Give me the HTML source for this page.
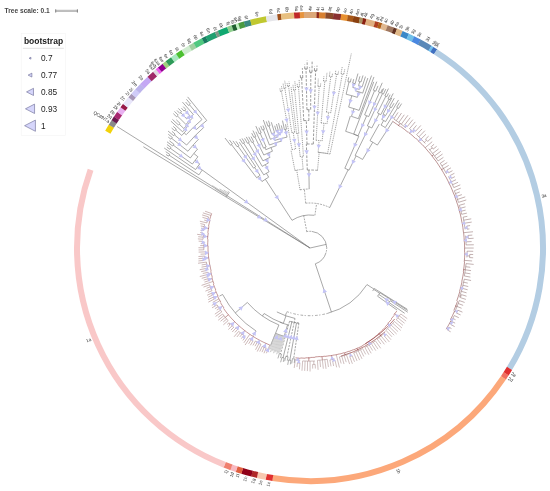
<!DOCTYPE html><html><head><meta charset="utf-8"><title>Tree</title><style>html,body{margin:0;padding:0;background:#fff;width:550px;height:491px;overflow:hidden}svg{display:block}</style></head><body><svg width="550" height="491" viewBox="0 0 550 491"><g fill="none" stroke-width="6"><path d="M107.81,132.21A233,233 0 0 1 111.44,126.08" stroke="#f2d20a"/><path d="M111.33,126.26A233,233 0 0 1 114.26,121.61" stroke="#8a8a8a"/><path d="M114.15,121.78A233,233 0 0 1 116.49,118.21" stroke="#6a1a50"/><path d="M116.38,118.38A233,233 0 0 1 119.72,113.53" stroke="#a82870"/><path d="M119.61,113.69A233,233 0 0 1 123.06,108.92" stroke="#e8b0f0"/><path d="M122.94,109.08A233,233 0 0 1 125.52,105.68" stroke="#981848"/><path d="M125.40,105.84A233,233 0 0 1 130.86,99.01" stroke="#e8e6fa"/><path d="M130.73,99.17A233,233 0 0 1 133.75,95.60" stroke="#a898b8"/><path d="M133.62,95.75A233,233 0 0 1 137.80,91.04" stroke="#d0ccf8"/><path d="M137.67,91.19A233,233 0 0 1 142.54,86.00" stroke="#bcb4ec"/><path d="M142.39,86.14A233,233 0 0 1 149.76,78.85" stroke="#c4a8f4"/><path d="M149.61,78.99A233,233 0 0 1 155.15,73.90" stroke="#a02868"/><path d="M155.00,74.03A233,233 0 0 1 157.91,71.49" stroke="#e0d8e0"/><path d="M157.75,71.62A233,233 0 0 1 160.07,69.64" stroke="#f060f0"/><path d="M159.92,69.77A233,233 0 0 1 164.48,66.03" stroke="#900090"/><path d="M164.32,66.16A233,233 0 0 1 167.68,63.52" stroke="#a0d080"/><path d="M167.51,63.64A233,233 0 0 1 172.88,59.62" stroke="#2e9a58"/><path d="M172.72,59.74A233,233 0 0 1 177.86,56.09" stroke="#a8e8c0"/><path d="M177.69,56.21A233,233 0 0 1 183.27,52.48" stroke="#4cc030"/><path d="M183.10,52.59A233,233 0 0 1 190.52,47.97" stroke="#d0ecd0"/><path d="M190.34,48.07A233,233 0 0 1 195.09,45.31" stroke="#a0d0a0"/><path d="M194.91,45.41A233,233 0 0 1 203.32,40.86" stroke="#50c880"/><path d="M203.13,40.95A233,233 0 0 1 206.95,39.03" stroke="#1a7a60"/><path d="M206.76,39.12A233,233 0 0 1 216.16,34.73" stroke="#20a070"/><path d="M215.97,34.81A233,233 0 0 1 219.15,33.44" stroke="#809888"/><path d="M218.96,33.52A233,233 0 0 1 228.21,29.83" stroke="#10a870"/><path d="M228.02,29.90A233,233 0 0 1 232.80,28.16" stroke="#90d090"/><path d="M232.61,28.23A233,233 0 0 1 236.65,26.85" stroke="#206030"/><path d="M236.45,26.91A233,233 0 0 1 239.35,25.97" stroke="#c0f0c0"/><path d="M239.16,26.03A233,233 0 0 1 244.80,24.31" stroke="#4a9a40"/><path d="M244.60,24.37A233,233 0 0 1 251.07,22.58" stroke="#3a8a80"/><path d="M250.87,22.63A233,233 0 0 1 266.54,19.09" stroke="#c0c830"/><path d="M266.34,19.13A233,233 0 0 1 277.77,17.24" stroke="#e6e6ea"/><path d="M277.57,17.27A233,233 0 0 1 281.40,16.76" stroke="#a0501a"/><path d="M281.20,16.79A233,233 0 0 1 294.36,15.53" stroke="#e8c080"/><path d="M294.15,15.54A233,233 0 0 1 300.04,15.21" stroke="#c02828"/><path d="M299.84,15.22A233,233 0 0 1 304.10,15.07" stroke="#e8943c"/><path d="M303.90,15.08A233,233 0 0 1 316.71,15.10" stroke="#dca878"/><path d="M316.51,15.09A233,233 0 0 1 319.15,15.18" stroke="#902818"/><path d="M318.94,15.17A233,233 0 0 1 325.64,15.53" stroke="#d88030"/><path d="M325.44,15.51A233,233 0 0 1 333.34,16.17" stroke="#8a4a2a"/><path d="M333.14,16.15A233,233 0 0 1 341.02,17.07" stroke="#8a3030"/><path d="M340.82,17.05A233,233 0 0 1 347.60,18.05" stroke="#e89030"/><path d="M347.40,18.02A233,233 0 0 1 353.20,19.04" stroke="#a85818"/><path d="M353.00,19.00A233,233 0 0 1 359.50,20.32" stroke="#8a4010"/><path d="M359.30,20.28A233,233 0 0 1 362.70,21.04" stroke="#a89060"/><path d="M362.50,20.99A233,233 0 0 1 365.90,21.80" stroke="#8a2010"/><path d="M365.70,21.76A233,233 0 0 1 374.60,24.13" stroke="#e0b080"/><path d="M374.40,24.08A233,233 0 0 1 378.19,25.20" stroke="#b04020"/><path d="M378.00,25.14A233,233 0 0 1 381.39,26.21" stroke="#b06018"/><path d="M381.20,26.15A233,233 0 0 1 386.89,28.05" stroke="#e0b890"/><path d="M386.70,27.99A233,233 0 0 1 392.99,30.28" stroke="#a07860"/><path d="M392.80,30.21A233,233 0 0 1 396.09,31.49" stroke="#603020"/><path d="M395.90,31.41A233,233 0 0 1 401.69,33.80" stroke="#e0b888"/><path d="M401.50,33.72A233,233 0 0 1 407.78,36.51" stroke="#3a88c8"/><path d="M407.60,36.43A233,233 0 0 1 413.18,39.09" stroke="#70c0e8"/><path d="M413.00,39.00A233,233 0 0 1 419.38,42.27" stroke="#4a88e0"/><path d="M419.20,42.17A233,233 0 0 1 430.07,48.32" stroke="#5a88b8"/><path d="M429.90,48.22A233,233 0 0 1 432.07,49.54" stroke="#70c0f0"/><path d="M431.90,49.43A233,233 0 0 1 435.67,51.80" stroke="#4070c0"/><path d="M435.50,51.69A233,233 0 0 1 509.41,368.53" stroke="#b3cde3"/><path d="M509.51,368.35A233,233 0 0 1 506.05,373.91" stroke="#e03030"/><path d="M506.16,373.74A233,233 0 0 1 503.39,377.95" stroke="#f07060"/><path d="M503.51,377.79A233,233 0 0 1 272.60,477.98" stroke="#fca87a"/><path d="M272.80,478.01A233,233 0 0 1 266.10,476.83" stroke="#e03030"/><path d="M266.30,476.87A233,233 0 0 1 257.30,474.96" stroke="#f8c8b0"/><path d="M257.50,475.01A233,233 0 0 1 251.90,473.64" stroke="#b02828"/><path d="M252.10,473.69A233,233 0 0 1 242.11,470.89" stroke="#900018"/><path d="M242.30,470.95A233,233 0 0 1 236.61,469.14" stroke="#e06040"/><path d="M236.80,469.20A233,233 0 0 1 231.21,467.27" stroke="#f8b8c0"/><path d="M231.40,467.34A233,233 0 0 1 224.61,464.79" stroke="#f08070"/><path d="M224.80,464.86A233,233 0 0 1 90.57,169.65" stroke="#f9c8c8"/></g><g font-family="Liberation Sans, sans-serif" font-size="4.5" fill="#2a2a2a"><text transform="translate(109.09,121.72) rotate(32.15)" text-anchor="end" dy="1.5">QC69/7a</text><text transform="translate(111.66,117.72) rotate(33.30)" text-anchor="end" dy="1.5">2q</text><text transform="translate(114.43,113.59) rotate(34.50)" text-anchor="end" dy="1.5">2b</text><text transform="translate(117.78,108.85) rotate(35.90)" text-anchor="end" dy="1.5">2k</text><text transform="translate(120.73,104.86) rotate(37.10)" text-anchor="end" dy="1.5">2r</text><text transform="translate(124.67,99.79) rotate(38.65)" text-anchor="end" dy="1.5">2c</text><text transform="translate(128.88,94.67) rotate(40.25)" text-anchor="end" dy="1.5">2i</text><text transform="translate(132.41,90.61) rotate(41.55)" text-anchor="end" dy="1.5">2j</text><text transform="translate(136.87,85.71) rotate(43.15)" text-anchor="end" dy="1.5">2m</text><text transform="translate(142.94,79.47) rotate(45.25)" text-anchor="end" dy="1.5">2a</text><text transform="translate(149.38,73.32) rotate(47.40)" text-anchor="end" dy="1.5">5a</text><text transform="translate(153.54,69.59) rotate(48.75)" text-anchor="end" dy="1.5">6xf</text><text transform="translate(156.04,67.42) rotate(49.55)" text-anchor="end" dy="1.5">6xb</text><text transform="translate(159.38,64.63) rotate(50.60)" text-anchor="end" dy="1.5">6xa</text><text transform="translate(163.25,61.52) rotate(51.80)" text-anchor="end" dy="1.5">6w</text><text transform="translate(167.52,58.23) rotate(53.10)" text-anchor="end" dy="1.5">6v</text><text transform="translate(172.71,54.45) rotate(54.65)" text-anchor="end" dy="1.5">6u</text><text transform="translate(177.99,50.81) rotate(56.20)" text-anchor="end" dy="1.5">6t</text><text transform="translate(184.43,46.65) rotate(58.05)" text-anchor="end" dy="1.5">6r</text><text transform="translate(190.45,43.01) rotate(59.75)" text-anchor="end" dy="1.5">6q</text><text transform="translate(196.95,39.36) rotate(61.55)" text-anchor="end" dy="1.5">6p</text><text transform="translate(203.01,36.19) rotate(63.20)" text-anchor="end" dy="1.5">6o</text><text transform="translate(209.53,33.02) rotate(64.95)" text-anchor="end" dy="1.5">6n</text><text transform="translate(215.76,30.22) rotate(66.60)" text-anchor="end" dy="1.5">6l</text><text transform="translate(221.87,27.67) rotate(68.20)" text-anchor="end" dy="1.5">6k</text><text transform="translate(228.84,25.01) rotate(70.00)" text-anchor="end" dy="1.5">6j</text><text transform="translate(233.13,23.49) rotate(71.10)" text-anchor="end" dy="1.5">6i</text><text transform="translate(236.47,22.38) rotate(71.95)" text-anchor="end" dy="1.5">6h</text><text transform="translate(240.62,21.07) rotate(73.00)" text-anchor="end" dy="1.5">6g</text><text transform="translate(246.58,19.33) rotate(74.50)" text-anchor="end" dy="1.5">6f</text><text transform="translate(257.63,16.55) rotate(77.25)" text-anchor="end" dy="1.5">6e</text><text transform="translate(271.24,13.89) rotate(80.60)" text-anchor="end" dy="1.5">6d</text><text transform="translate(278.82,12.76) rotate(82.45)" text-anchor="end" dy="1.5">6c</text><text transform="translate(287.26,11.79) rotate(84.50)" text-anchor="end" dy="1.5">6b</text><text transform="translate(296.75,11.07) rotate(86.80)" text-anchor="end" dy="1.5">6a</text><text transform="translate(301.72,10.84) rotate(88.00)" text-anchor="end" dy="1.5">4w</text><text transform="translate(310.21,10.70) rotate(270.05)" text-anchor="start" dy="1.5">4v</text><text transform="translate(317.87,10.83) rotate(271.90)" text-anchor="start" dy="1.5">4t</text><text transform="translate(322.42,11.03) rotate(273.00)" text-anchor="start" dy="1.5">4r</text><text transform="translate(329.65,11.52) rotate(274.75)" text-anchor="start" dy="1.5">4q</text><text transform="translate(337.48,12.30) rotate(276.65)" text-anchor="start" dy="1.5">4p</text><text transform="translate(344.74,13.26) rotate(278.42)" text-anchor="start" dy="1.5">4o</text><text transform="translate(350.94,14.26) rotate(279.94)" text-anchor="start" dy="1.5">4n</text><text transform="translate(357.01,15.40) rotate(281.43)" text-anchor="start" dy="1.5">4m</text><text transform="translate(361.84,16.43) rotate(282.62)" text-anchor="start" dy="1.5">4l</text><text transform="translate(365.10,17.19) rotate(283.43)" text-anchor="start" dy="1.5">4k</text><text transform="translate(371.17,18.72) rotate(284.94)" text-anchor="start" dy="1.5">4g</text><text transform="translate(377.42,20.48) rotate(286.51)" text-anchor="start" dy="1.5">4f</text><text transform="translate(380.89,21.53) rotate(287.38)" text-anchor="start" dy="1.5">4d</text><text transform="translate(385.32,22.97) rotate(288.51)" text-anchor="start" dy="1.5">4c</text><text transform="translate(391.23,25.04) rotate(290.02)" text-anchor="start" dy="1.5">4b</text><text transform="translate(395.91,26.80) rotate(291.22)" text-anchor="start" dy="1.5">4a</text><text transform="translate(400.34,28.57) rotate(292.38)" text-anchor="start" dy="1.5">3i</text><text transform="translate(406.30,31.12) rotate(293.94)" text-anchor="start" dy="1.5">3h</text><text transform="translate(412.16,33.82) rotate(295.50)" text-anchor="start" dy="1.5">3g</text><text transform="translate(418.07,36.74) rotate(297.09)" text-anchor="start" dy="1.5">3e</text><text transform="translate(426.70,41.38) rotate(299.46)" text-anchor="start" dy="1.5">3d</text><text transform="translate(433.13,45.15) rotate(301.26)" text-anchor="start" dy="1.5">3b</text><text transform="translate(435.99,46.91) rotate(302.07)" text-anchor="start" dy="1.5">3k</text><text transform="translate(511.50,373.33) rotate(31.88)" text-anchor="start" dy="1.5">2e</text><text transform="translate(508.44,378.13) rotate(33.25)" text-anchor="start" dy="1.5">2d</text><text transform="translate(268.80,481.70) rotate(-80.00)" text-anchor="end" dy="1.5">1c</text><text transform="translate(261.00,480.19) rotate(-78.08)" text-anchor="end" dy="1.5">1e</text><text transform="translate(253.78,478.54) rotate(-76.29)" text-anchor="end" dy="1.5">1g</text><text transform="translate(246.03,476.51) rotate(-74.36)" text-anchor="end" dy="1.5">1h</text><text transform="translate(238.24,474.19) rotate(-72.40)" text-anchor="end" dy="1.5">1l</text><text transform="translate(232.69,472.35) rotate(-70.99)" text-anchor="end" dy="1.5">1d</text><text transform="translate(226.58,470.15) rotate(-69.42)" text-anchor="end" dy="1.5">1j</text><text transform="translate(541.59,196.23) rotate(347.40)" text-anchor="start" dy="1.5">3a</text><text transform="translate(397.36,468.64) rotate(68.40)" text-anchor="start" dy="1.5">1b</text><text transform="translate(90.92,339.19) rotate(-22.60)" text-anchor="end" dy="1.5">1a</text></g><path fill="none" stroke="#7a7a7a" stroke-width="0.65" d="M310.00,248.00L117.07,126.50M310.00,248.00L226.26,197.09M226.26,197.09A98.00,98.00 0 0 1 229.33,192.35M226.26,197.09L143.38,146.69M310.00,248.00L202.26,170.01M198.91,174.86A133.00,133.00 0 0 1 202.24,170.04M198.91,174.86L169.11,155.24M168.53,156.13A168.68,168.68 0 0 1 169.70,154.36M168.53,156.13L165.99,154.48M169.70,154.36L165.71,151.70M202.24,170.04L197.62,166.70M195.61,169.56A138.70,138.70 0 0 1 199.71,163.90M195.61,169.56L164.20,148.02M199.71,163.90L195.09,160.37M192.38,164.04A144.51,144.51 0 0 1 197.91,156.79M192.38,164.04L170.40,148.35M169.77,149.23A171.52,171.52 0 0 1 171.02,147.47M169.77,149.23L166.80,147.14M171.02,147.47L166.97,144.54M197.91,156.79L193.84,153.48M190.33,157.96A149.76,149.76 0 0 1 197.51,149.14M190.33,157.96L173.30,145.14M172.66,146.00A171.07,171.07 0 0 1 173.95,144.29M172.66,146.00L167.00,141.80M173.95,144.29L169.38,140.80M197.51,149.14L193.01,145.19M187.94,151.26A155.75,155.75 0 0 1 198.37,139.38M187.94,151.26L171.67,138.36M170.99,139.23A176.51,176.51 0 0 1 172.36,137.50M170.99,139.23L168.31,137.14M172.36,137.50L168.28,134.22M198.37,139.38L194.84,135.94M186.62,145.06A160.68,160.68 0 0 1 203.73,127.48M186.62,145.06L174.43,134.89M173.72,135.74A176.56,176.56 0 0 1 175.14,134.04M173.72,135.74L168.11,131.11M175.14,134.04L171.93,131.32M203.73,127.48L201.47,124.92M196.40,129.58A164.10,164.10 0 0 1 206.73,120.47M196.40,129.58L193.82,126.89M186.19,134.71A167.82,167.82 0 0 1 201.95,119.59M186.19,134.71L184.14,132.82M181.79,135.44A170.61,170.61 0 0 1 186.54,130.25M181.79,135.44L175.56,129.98M174.82,130.82A178.89,178.89 0 0 1 176.31,129.13M174.82,130.82L171.61,128.04M176.31,129.13L173.25,126.42M186.54,130.25L185.20,128.98M182.57,131.81A172.45,172.45 0 0 1 187.90,126.22M182.57,131.81L170.89,121.15M187.90,126.22L186.93,125.25M183.79,128.49A173.82,173.82 0 0 1 190.16,122.11M183.79,128.49L179.31,124.24M178.53,125.06A179.99,179.99 0 0 1 180.09,123.42M178.53,125.06L172.42,119.35M180.09,123.42L176.29,119.78M190.16,122.11L189.22,121.12M185.87,124.39A175.17,175.17 0 0 1 192.65,117.94M185.87,124.39L177.39,115.94M176.56,116.78A187.15,187.15 0 0 1 178.22,115.11M176.56,116.78L173.32,113.59M178.22,115.11L174.53,111.39M192.65,117.94L191.30,116.45M189.25,118.33A177.19,177.19 0 0 1 193.38,114.60M189.25,118.33L188.30,117.32M186.67,118.85A178.57,178.57 0 0 1 189.96,115.80M186.67,118.85L180.69,112.59M179.84,113.41A187.23,187.23 0 0 1 181.55,111.78M179.84,113.41L177.00,110.47M181.55,111.78L178.35,108.39M189.96,115.80L184.91,110.23M184.04,111.02A186.09,186.09 0 0 1 185.77,109.45M184.04,111.02L181.43,108.18M185.77,109.45L183.23,106.62M193.38,114.60L182.47,102.12M201.95,119.59L189.44,104.72M188.54,105.48A187.25,187.25 0 0 1 190.34,103.97M188.54,105.48L185.62,102.06M190.34,103.97L186.45,99.29M206.73,120.47L187.63,96.88M310.00,248.00L326.30,244.36M311.75,231.39A16.70,16.70 0 0 1 326.69,247.42M326.05,252.60A16.70,16.70 0 0 1 315.30,263.84M292.03,220.32A33.00,33.00 0 0 1 314.19,215.27M292.03,220.32L265.34,179.23M261.96,181.54A82.00,82.00 0 0 1 268.68,177.17M261.96,181.54L258.35,176.54M256.68,177.78A88.17,88.17 0 0 1 260.04,175.34M256.68,177.78L231.49,144.60M230.61,145.28A129.82,129.82 0 0 1 232.38,143.94M230.61,145.28L225.00,138.03M232.38,143.94L229.42,139.96M260.04,175.34L254.64,167.48M253.61,168.20A97.71,97.71 0 0 1 255.68,166.78M253.61,168.20L238.02,146.13M237.15,146.75A124.74,124.74 0 0 1 238.89,145.52M237.15,146.75L232.93,140.89M238.89,145.52L235.93,141.25M255.68,166.78L239.25,142.21M268.68,177.17L266.40,173.26M263.76,174.86A86.53,86.53 0 0 1 269.09,171.75M263.76,174.86L243.63,143.03M242.74,143.60A124.19,124.19 0 0 1 244.54,142.46M242.74,143.60L239.79,139.02M244.54,142.46L242.03,138.43M269.09,171.75L265.27,164.64M262.22,166.36A94.60,94.60 0 0 1 268.39,163.04M262.22,166.36L248.40,142.74M247.50,143.28A121.96,121.96 0 0 1 249.30,142.22M247.50,143.28L244.58,138.38M249.30,142.22L246.24,136.89M268.39,163.04L266.44,159.05M262.93,160.86A99.04,99.04 0 0 1 270.02,157.39M262.93,160.86L252.79,142.09M251.89,142.58A120.37,120.37 0 0 1 253.70,141.60M251.89,142.58L248.70,136.80M253.70,141.60L251.03,136.56M270.02,157.39L268.09,153.02M263.82,155.02A103.82,103.82 0 0 1 272.45,151.21M263.82,155.02L254.83,136.92M253.88,137.40A124.03,124.03 0 0 1 255.78,136.45M253.88,137.40L251.73,133.16M255.78,136.45L252.92,130.56M272.45,151.21L271.01,147.52M265.81,149.70A107.78,107.78 0 0 1 276.32,145.62M265.81,149.70L264.86,147.58M263.57,148.17A110.10,110.10 0 0 1 266.15,147.01M263.57,148.17L255.91,131.70M266.15,147.01L260.21,133.32M259.23,133.75A125.02,125.02 0 0 1 261.19,132.90M259.23,133.75L255.83,126.10M261.19,132.90L258.93,127.57M276.32,145.62L275.42,142.86M269.43,145.02A110.68,110.68 0 0 1 281.52,141.05M269.43,145.02L263.37,129.66M262.36,130.06A127.19,127.19 0 0 1 264.39,129.27M262.36,130.06L260.71,125.98M264.39,129.27L262.94,125.49M281.52,141.05L280.87,138.59M274.77,140.40A113.22,113.22 0 0 1 287.06,137.13M274.77,140.40L273.99,138.02M270.36,139.28A115.72,115.72 0 0 1 277.66,136.89M270.36,139.28L263.34,120.03M277.66,136.89L277.20,135.31M274.07,136.26A117.37,117.37 0 0 1 280.34,134.44M274.07,136.26L273.09,133.20M271.61,133.68A120.59,120.59 0 0 1 274.56,132.73M271.61,133.68L268.99,125.88M267.95,126.23A128.82,128.82 0 0 1 270.04,125.53M267.95,126.23L266.30,121.46M270.04,125.53L268.46,120.70M274.56,132.73L271.34,122.24M280.34,134.44L279.89,132.71M277.92,133.24A119.16,119.16 0 0 1 281.87,132.21M277.92,133.24L277.19,130.63M276.19,130.92A121.87,121.87 0 0 1 278.20,130.35M276.19,130.92L274.68,125.71M278.20,130.35L276.49,124.02M281.87,132.21L281.43,130.40M280.43,130.65A121.02,121.02 0 0 1 282.44,130.16M280.43,130.65L278.52,123.08M282.44,130.16L281.32,125.39M287.06,137.13L285.46,129.40M284.44,129.62A121.11,121.11 0 0 1 286.48,129.20M284.44,129.62L282.50,120.61M286.48,129.20L285.49,124.19M309.18,189.01L308.91,170.01M329.73,207.55L348.14,169.80M344.83,168.28A87.00,87.00 0 0 1 348.96,170.21M344.83,168.28L358.84,136.20M345.67,131.33A122.00,122.00 0 0 1 358.84,136.20M345.67,131.33L350.35,116.03M351.48,116.38A138.00,138.00 0 0 1 358.33,118.74M351.48,116.38L353.92,108.63M348.66,107.08A146.13,146.13 0 0 1 359.13,110.38M348.66,107.08L351.78,95.70M346.14,94.26A157.93,157.93 0 0 1 357.36,97.34M346.14,94.26L349.06,81.85M347.81,81.56A170.68,170.68 0 0 1 350.30,82.14M347.81,81.56L348.78,77.30M350.30,82.14L351.17,78.55M357.36,97.34L359.07,91.92M355.41,90.82A163.61,163.61 0 0 1 362.70,93.11M355.41,90.82L356.11,88.40M352.83,87.49A166.13,166.13 0 0 1 359.38,89.38M352.83,87.49L353.92,83.38M352.69,83.06A170.38,170.38 0 0 1 355.15,83.71M352.69,83.06L353.70,79.17M355.15,83.71L357.94,73.55M359.38,89.38L360.38,86.18M358.56,85.63A169.48,169.48 0 0 1 362.18,86.76M358.56,85.63L359.75,81.65M358.51,81.28A173.63,173.63 0 0 1 360.99,82.02M358.51,81.28L359.96,76.30M360.99,82.02L363.00,75.48M362.18,86.76L365.47,76.61M362.70,93.11L367.83,78.02M359.13,110.38L371.55,75.56M358.33,118.74L373.95,76.95M353.72,134.10A122.00,122.00 0 0 1 358.04,135.86M353.72,134.10L373.77,81.87M358.04,135.86L366.65,115.74M364.63,114.89A143.88,143.88 0 0 1 368.66,116.62M364.63,114.89L374.56,90.69M373.35,90.21A170.04,170.04 0 0 1 375.76,91.19M373.35,90.21L376.79,81.64M375.76,91.19L377.98,85.88M368.66,116.62L379.53,92.29M378.34,91.76A170.53,170.53 0 0 1 380.72,92.82M378.34,91.76L382.26,82.79M380.72,92.82L382.51,88.89M348.96,170.21L356.12,155.90M355.15,155.42A103.00,103.00 0 0 1 362.59,159.44M355.15,155.42L369.18,126.66M367.37,125.80A135.00,135.00 0 0 1 371.81,127.98M367.37,125.80L382.47,93.65M381.52,93.21A170.51,170.51 0 0 1 383.41,94.10M381.52,93.21L383.81,88.27M383.41,94.10L385.79,89.10M371.81,127.98L379.10,113.83M377.46,112.99A150.92,150.92 0 0 1 380.74,114.68M377.46,112.99L385.80,96.30M384.87,95.84A169.58,169.58 0 0 1 386.73,96.77M384.87,95.84L388.45,88.58M386.73,96.77L388.44,93.39M380.74,114.68L389.00,99.11M388.09,98.63A168.55,168.55 0 0 1 389.91,99.59M388.09,98.63L390.14,94.72M389.91,99.59L393.22,93.44M362.59,159.44L372.80,142.24M370.01,140.63A123.00,123.00 0 0 1 377.35,145.08M370.01,140.63L379.28,124.05M381.05,125.06A142.00,142.00 0 0 1 385.29,127.60M381.05,125.06L383.68,120.52M381.77,119.43A147.24,147.24 0 0 1 385.57,121.63M381.77,119.43L384.35,114.80M383.02,114.07A152.54,152.54 0 0 1 385.67,115.55M383.02,114.07L391.83,97.92M385.67,115.55L390.53,107.04M389.60,106.51A162.34,162.34 0 0 1 391.47,107.58M389.60,106.51L394.29,98.16M391.47,107.58L394.03,103.16M385.57,121.63L398.53,99.96M385.29,127.60L397.65,107.84M396.72,107.26A165.31,165.31 0 0 1 398.58,108.42M396.72,107.26L399.56,102.64M398.58,108.42L401.62,103.62M377.35,145.08L392.68,121.65M315.30,263.84L331.48,312.20M366.97,284.57A67.70,67.70 0 0 1 327.52,313.39M366.97,284.57L373.95,289.06M374.31,288.50A76.00,76.00 0 0 1 372.63,291.05M374.31,288.50L407.31,309.28M373.74,289.39L379.61,293.21M379.92,292.72A83.00,83.00 0 0 1 377.57,296.20M378.81,294.41L389.59,301.68M379.92,292.72L407.72,310.50M390.24,300.71A96.00,96.00 0 0 1 389.02,302.51M390.24,300.71L407.79,312.24M389.02,302.51L404.66,313.30M377.57,296.20L397.11,310.14M286.57,312.37L285.37,315.66M295.03,318.43A72.00,72.00 0 0 1 276.87,311.92M285.97,315.87L283.30,323.41M288.49,325.05A80.00,80.00 0 0 1 279.77,322.07M287.55,324.78L284.18,336.30M284.18,336.30A92.00,92.00 0 0 1 275.54,333.30M282.64,323.18A80.00,80.00 0 0 1 264.11,313.53M264.11,313.53L262.39,315.99M278.91,324.96A83.00,83.00 0 0 1 247.36,302.45M247.36,302.45L235.28,312.95M256.08,331.03A99.00,99.00 0 0 1 222.59,294.48M256.08,331.03L253.09,335.64M222.59,294.48L219.50,296.12M278.91,324.96L270.67,345.35"/><path fill="none" stroke="#a8a8a8" stroke-width="0.65" d="M226.89,196.07L215.02,188.65M227.44,195.20L212.28,185.50M228.00,194.34L219.63,188.86M228.66,193.34L223.68,189.99M229.33,192.35L227.69,191.22"/><path fill="none" stroke="#7a7a7a" stroke-width="0.65" stroke-dasharray="1.8,1.1" d="M306.47,231.68A16.70,16.70 0 0 1 311.75,231.39M306.81,231.61L303.70,215.61M314.88,215.36L316.65,203.49M305.69,203.21A45.00,45.00 0 0 1 329.73,207.55M305.69,203.21L304.35,189.27M300.06,189.84A59.00,59.00 0 0 1 309.18,189.01M295.03,318.43L294.20,322.34M298.77,323.17A76.00,76.00 0 0 1 289.69,321.24"/><path fill="none" stroke="#7a7a7a" stroke-width="0.65" stroke-dasharray="1.6,1" d="M326.69,247.42A16.70,16.70 0 0 1 326.05,252.60"/><path fill="none" stroke="#666" stroke-width="0.65" stroke-dasharray="1,0.9" d="M300.06,189.84L296.69,170.13M294.93,170.45A79.00,79.00 0 0 1 303.11,169.30M294.93,170.45L290.92,149.84M292.03,149.63A100.00,100.00 0 0 1 295.65,149.03M292.03,149.63L281.37,91.23M280.41,91.41A159.36,159.36 0 0 1 282.33,91.06M280.41,91.41L279.72,87.76M282.33,91.06L281.44,86.02M295.65,149.03L293.23,132.35M291.82,132.56A116.86,116.86 0 0 1 294.65,132.15M291.82,132.56L284.85,88.28M283.87,88.43A161.69,161.69 0 0 1 285.82,88.13M283.87,88.43L283.02,83.24M285.82,88.13L284.65,80.40M294.65,132.15L288.53,85.99M287.54,86.13A163.42,163.42 0 0 1 289.52,85.87M287.54,86.13L287.04,82.55M289.52,85.87L288.98,81.65M303.11,169.30L301.98,156.35M300.16,156.53A92.00,92.00 0 0 1 303.46,156.23M300.16,156.53L297.68,133.39M296.55,133.52A115.27,115.27 0 0 1 298.80,133.28M296.55,133.52L291.03,86.55M298.80,133.28L294.58,90.06M293.55,90.16A158.69,158.69 0 0 1 295.62,89.96M293.55,90.16L292.94,84.33M295.62,89.96L294.82,81.15M303.46,156.23L298.51,86.69M297.45,86.77A161.71,161.71 0 0 1 299.56,86.62M297.45,86.77L297.22,83.78M299.56,86.62L299.08,79.14M317.48,170.36L319.20,152.44M329.96,154.10L351.37,53.35M319.20,152.44A96.00,96.00 0 0 1 329.96,154.10M318.12,152.34A96.00,96.00 0 0 1 327.57,153.62M318.12,152.34L319.12,140.56M316.12,140.35A107.83,107.83 0 0 1 322.10,140.86M316.12,140.35L319.20,86.34M317.91,86.27A161.92,161.92 0 0 1 320.48,86.42M317.91,86.27L318.30,78.38M320.48,86.42L320.71,82.91M322.10,140.86L324.09,123.30M321.11,123.00A125.50,125.50 0 0 1 327.06,123.67M321.11,123.00L324.84,81.03M323.51,80.91A167.63,167.63 0 0 1 326.16,81.15M323.51,80.91L323.88,76.34M326.16,81.15L326.97,72.85M327.06,123.67L328.60,112.39M326.44,112.11A136.88,136.88 0 0 1 330.76,112.70M326.44,112.11L330.76,76.47M329.39,76.31A172.78,172.78 0 0 1 332.12,76.64M329.39,76.31L329.91,71.70M332.12,76.64L332.55,73.32M330.76,112.70L336.66,74.23M335.28,74.03A175.80,175.80 0 0 1 338.04,74.45M335.28,74.03L335.85,70.07M338.04,74.45L338.66,70.62M327.57,153.62L342.42,73.82M341.04,73.57A177.17,177.17 0 0 1 343.81,74.09M341.04,73.57L342.19,67.07M343.81,74.09L344.74,69.27"/><path fill="none" stroke="#666" stroke-width="0.65" stroke-dasharray="2.6,1.4" d="M307.28,170.05A78.00,78.00 0 0 1 317.48,170.36M307.28,170.05L306.37,144.06M306.99,144.04A104.00,104.00 0 0 1 313.29,144.05M306.99,144.04L306.31,120.53M303.74,120.63A127.52,127.52 0 0 1 308.89,120.49M303.74,120.63L301.63,77.71M300.48,77.77A170.50,170.50 0 0 1 302.78,77.66M300.48,77.77L300.26,73.79M302.78,77.66L302.37,68.15M308.89,120.49L308.79,109.65M306.93,109.68A138.36,138.36 0 0 1 310.66,109.64M306.93,109.68L306.03,68.94M304.82,68.97A179.10,179.10 0 0 1 307.23,68.92M304.82,68.97L304.69,64.59M307.23,68.92L307.10,60.51M310.66,109.64L310.83,72.24M309.65,72.24A175.76,175.76 0 0 1 312.02,72.25M309.65,72.24L309.64,67.25M312.02,72.25L312.14,61.43M313.29,144.05L315.61,70.76M314.42,70.72A177.33,177.33 0 0 1 316.81,70.80M314.42,70.72L314.53,66.42M316.81,70.80L317.00,65.66"/><path fill="none" stroke="#7a2c2c" stroke-width="0.5" d="M392.36,121.18A151.21,151.21 0 0 1 400.32,126.73M400.53,126.36A151.63,151.63 0 0 1 408.15,132.42M408.38,132.06A152.06,152.06 0 0 1 415.62,138.61M415.87,138.27A152.48,152.48 0 0 1 422.69,145.29M422.80,145.12A152.67,152.67 0 0 1 429.17,152.57M429.28,152.41A152.86,152.86 0 0 1 435.17,160.26M435.29,160.11A153.04,153.04 0 0 1 440.67,168.33M440.79,168.19A153.22,153.22 0 0 1 445.65,176.74M445.78,176.61A153.40,153.40 0 0 1 450.08,185.47M450.22,185.35A153.58,153.58 0 0 1 453.95,194.47M454.09,194.37A153.75,153.75 0 0 1 457.23,203.72M457.38,203.62A153.91,153.91 0 0 1 459.92,213.17M460.07,213.08A154.08,154.08 0 0 1 462.00,222.78M462.16,222.70A154.24,154.24 0 0 1 463.47,232.51M463.63,232.44A154.41,154.41 0 0 1 464.31,242.33M464.52,242.27A154.63,154.63 0 0 1 464.57,252.19M464.85,252.14A154.90,154.90 0 0 1 464.26,262.07M464.54,262.04A155.18,155.18 0 0 1 463.32,271.93M463.60,271.92A155.45,155.45 0 0 1 461.75,281.72M462.03,281.73A155.73,155.73 0 0 1 459.55,291.41M459.83,291.44A156.00,156.00 0 0 1 456.74,300.96M457.56,301.20A156.86,156.86 0 0 1 453.84,310.55M454.65,310.85A157.71,157.71 0 0 1 450.32,320.00M451.11,320.34A158.57,158.57 0 0 1 446.18,329.24M398.44,125.61L400.09,123.31M409.55,133.41L411.90,130.70M418.63,141.41L421.08,139.01M431.88,156.00L433.61,154.70M441.50,169.69L443.53,168.48M448.88,183.02L451.25,181.92M454.91,197.05L456.53,196.48M459.14,210.15L460.58,209.78M462.13,223.61L464.26,223.27M464.19,240.36L465.91,240.27M464.61,254.19L467.01,254.29M463.57,269.57L465.32,269.81M460.32,287.82L462.17,288.31M455.27,305.75L457.08,306.46M450.72,319.11L452.16,319.84M447.15,327.92L448.15,328.50"/><path fill="none" stroke="#866464" stroke-width="0.5" d="M393.78,118.99A153.83,153.83 0 0 1 406.18,127.95M404.98,127.00L405.98,125.72M404.76,124.77A155.45,155.45 0 0 1 407.20,126.68M404.76,124.77L410.28,117.60M407.20,126.68L412.87,119.61M393.78,118.99L398.08,112.37M396.33,120.68L401.51,113.04M398.85,122.42L404.27,114.77M401.33,124.22L407.95,115.25M409.55,128.69A155.38,155.38 0 0 1 414.22,132.75M413.07,131.72L414.43,130.18M413.25,129.15A157.44,157.44 0 0 1 415.59,131.23M413.25,129.15L416.52,125.38M415.59,131.23L420.83,125.43M409.55,128.69L415.21,121.91M416.65,134.67A155.62,155.62 0 0 1 425.33,143.51M424.28,142.37L426.58,140.24M425.51,139.09A158.76,158.76 0 0 1 427.65,141.41M425.51,139.09L428.63,136.14M427.65,141.41L432.13,137.35M416.65,134.67L422.13,128.85M418.89,136.82L424.92,130.65M421.08,139.01L425.97,134.21M425.14,147.78L432.24,141.61M428.81,148.67A154.87,154.87 0 0 1 438.09,160.96M429.80,149.86L432.22,147.87M431.22,146.66A158.00,158.00 0 0 1 433.21,149.09M431.22,146.66L434.09,144.26M433.21,149.09L436.67,146.31M432.67,153.48L438.60,148.91M434.53,155.94L440.82,151.28M436.34,158.43L442.56,154.02M438.09,160.96L443.40,157.36M440.26,163.23A155.41,155.41 0 0 1 446.59,173.86M445.84,172.50L447.78,171.43M447.01,170.06A157.63,157.63 0 0 1 448.54,172.80M447.01,170.06L450.94,167.82M448.54,172.80L452.49,170.66M440.26,163.23L444.55,160.44M441.92,165.84L447.26,162.51M443.53,168.48L448.68,165.42M448.51,176.35A155.94,155.94 0 0 1 453.77,187.59M449.21,177.73L450.80,176.93M450.08,175.53A157.72,157.72 0 0 1 451.50,178.33M450.08,175.53L454.40,173.30M451.50,178.33L454.88,176.67M451.25,181.92L455.99,179.70M452.54,184.74L458.10,182.27M453.77,187.59L460.29,184.85M454.36,190.69A155.32,155.32 0 0 1 458.46,202.35M454.36,190.69L460.75,188.16M455.47,193.58L459.81,191.95M456.53,196.48L461.87,194.60M457.52,199.41L465.23,196.87M458.46,202.35L466.26,199.95M459.38,205.31A155.36,155.36 0 0 1 461.66,214.30M459.38,205.31L464.94,203.72M460.20,208.29L465.54,206.87M460.96,211.28L465.65,210.14M461.66,214.30L466.84,213.14M463.15,217.15A156.23,156.23 0 0 1 465.12,229.42M464.93,227.88L466.94,227.62M466.73,226.06A158.25,158.25 0 0 1 467.13,229.18M466.73,226.06L470.08,225.59M467.13,229.18L469.44,228.91M463.15,217.15L467.37,216.30M463.73,220.20L471.25,218.84M464.26,223.27L471.72,222.07M463.57,232.70L473.02,231.76M465.61,235.62A156.10,156.10 0 0 1 466.07,244.93M465.73,237.17L468.14,237.00M468.02,235.43A158.52,158.52 0 0 1 468.24,238.58M468.02,235.43L472.31,235.09M468.24,238.58L473.60,238.26M465.98,241.82L471.64,241.60M466.07,244.93L473.81,244.78M464.65,248.04L473.69,248.04M467.10,251.16A157.13,157.13 0 0 1 466.85,257.41M466.94,255.85L469.67,255.99M469.74,254.40A159.87,159.87 0 0 1 469.58,257.58M469.74,254.40L473.18,254.54M469.58,257.58L473.18,257.79M467.10,251.16L473.23,251.29M464.50,260.36L472.14,260.97M466.06,263.62A156.84,156.84 0 0 1 464.32,275.98M466.06,263.62L473.67,264.38M465.72,266.72L470.31,267.27M465.32,269.81L471.04,270.62M464.85,272.90L470.48,273.81M464.32,275.98L470.39,277.08M464.30,279.16A157.42,157.42 0 0 1 459.49,297.32M459.97,295.83L460.93,296.13M461.40,294.63A158.42,158.42 0 0 1 460.44,297.63M461.40,294.63L466.52,296.20M460.44,297.63L465.88,299.42M464.30,279.16L471.09,280.53M463.65,282.22L467.77,283.14M462.94,285.27L468.28,286.57M462.17,288.31L467.64,289.76M461.33,291.33L466.59,292.83M459.29,300.56A158.27,158.27 0 0 1 454.63,312.27M455.27,310.83L457.12,311.63M457.75,310.16A160.29,160.29 0 0 1 456.48,313.09M457.75,310.16L462.45,312.14M456.48,313.09L460.62,314.93M459.29,300.56L464.63,302.45M458.21,303.52L463.15,305.38M457.08,306.46L461.57,308.25M454.24,315.56A159.28,159.28 0 0 1 449.95,324.05M450.70,322.65L451.59,323.12M452.33,321.71A160.28,160.28 0 0 1 450.83,324.53M452.33,321.71L455.14,323.17M450.83,324.53L454.62,326.59M454.24,315.56L458.82,317.71M452.87,318.42L455.57,319.75M448.95,327.12A159.90,159.90 0 0 1 447.34,329.87M448.95,327.12L451.49,328.58M447.34,329.87L450.65,331.84"/><path fill="none" stroke="#7a7a7a" stroke-width="0.65" stroke-dasharray="1.2,1.5,2.6,2" d="M327.52,313.39A67.70,67.70 0 0 1 286.85,311.62"/><path fill="none" stroke="#8a2a2a" stroke-width="0.6" d="M394.65,319.03A110.50,110.50 0 0 1 365.25,343.70M385.28,331.60A112.50,112.50 0 0 1 341.01,356.14"/><path fill="none" stroke="#8a2a2a" stroke-width="0.5" d="M396.78,311.05A107.27,107.27 0 0 1 393.85,314.90M394.29,315.20A107.80,107.80 0 0 1 391.18,318.93M391.61,319.25A108.33,108.33 0 0 1 388.31,322.86M388.72,323.20A108.87,108.87 0 0 1 385.26,326.67M385.65,327.03A109.40,109.40 0 0 1 382.02,330.36M382.25,330.56A109.71,109.71 0 0 1 378.45,333.73M378.64,333.91A109.97,109.97 0 0 1 374.70,336.92M374.88,337.10A110.22,110.22 0 0 1 370.80,339.93M370.98,340.13A110.48,110.48 0 0 1 366.76,342.78M366.93,342.98A110.73,110.73 0 0 1 362.59,345.45M362.75,345.66A110.99,110.99 0 0 1 358.29,347.93M358.24,347.73A110.79,110.79 0 0 1 353.70,349.80M353.64,349.58A110.56,110.56 0 0 1 349.02,351.45M348.98,351.23A110.34,110.34 0 0 1 344.29,352.88M344.26,352.65A110.12,110.12 0 0 1 339.51,354.09M339.48,353.87A109.89,109.89 0 0 1 334.68,355.09M334.67,354.86A109.67,109.67 0 0 1 329.83,355.86M329.83,355.64A109.45,109.45 0 0 1 324.96,356.42M324.97,356.20A109.23,109.23 0 0 1 320.07,356.76M320.09,356.53A109.00,109.00 0 0 1 315.19,356.88M315.25,357.31A109.44,109.44 0 0 1 310.32,357.44M310.36,357.89A109.89,109.89 0 0 1 305.41,357.79M305.43,358.24A110.33,110.33 0 0 1 300.47,357.92M300.47,358.37A110.78,110.78 0 0 1 295.50,357.82M394.45,313.70L398.55,316.89M387.51,323.27L390.31,325.98M378.85,333.21L381.13,336.02M368.45,341.40L370.26,344.31M357.12,348.43L358.24,350.83M344.57,352.96L345.29,355.14M331.55,355.61L332.34,359.53M322.02,356.76L322.37,359.91M308.86,357.25L308.82,361.14M297.97,357.91L297.74,360.01"/><path fill="none" stroke="#a08080" stroke-width="0.5" d="M400.77,313.95A112.20,112.20 0 0 1 396.24,319.77M400.77,313.95L407.23,318.64M399.30,315.92L406.16,321.14M397.79,317.86L404.55,323.24M396.24,319.77L403.02,325.40M394.45,321.47A111.94,111.94 0 0 1 385.92,330.26M394.45,321.47L401.98,328.01M392.82,323.30L400.74,330.49M391.16,325.10L398.09,331.69M389.45,326.86L396.66,334.02M387.70,328.58L394.13,335.24M385.92,330.26L391.97,336.81M384.91,332.82A113.17,113.17 0 0 1 377.20,339.05M383.98,333.64L385.28,335.15M386.23,334.32A115.16,115.16 0 0 1 384.32,335.97M386.23,334.32L391.01,339.73M384.32,335.97L389.42,342.00M381.13,336.02L386.31,342.44M379.18,337.56L384.40,344.32M377.20,339.05L380.95,344.13M375.45,340.87A113.61,113.61 0 0 1 364.90,347.46M375.45,340.87L380.70,348.32M373.40,342.28L378.02,349.16M371.32,343.64L375.80,350.64M369.21,344.96L372.59,350.50M367.07,346.24L371.19,353.34M364.90,347.46L368.92,354.74M362.70,348.62A113.58,113.58 0 0 1 353.69,352.84M362.70,348.62L365.73,354.42M360.48,349.75L363.84,356.52M358.24,350.83L362.02,358.88M355.98,351.86L359.63,360.13M353.69,352.84L357.06,360.94M351.10,353.05A112.80,112.80 0 0 1 339.37,356.91M349.95,353.49L350.97,356.19M352.15,355.74A115.69,115.69 0 0 1 349.78,356.63M352.15,355.74L354.52,361.80M349.78,356.63L352.40,363.79M346.46,354.75L349.65,364.08M344.11,355.52L346.22,362.17M341.75,356.24L344.04,364.06M339.37,356.91L341.15,363.51M336.27,354.67L339.45,367.56M334.78,359.01A113.74,113.74 0 0 1 329.89,359.99M333.56,359.28L333.86,360.68M335.09,360.41A115.17,115.17 0 0 1 332.62,360.93M335.09,360.41L336.63,367.32M332.62,360.93L333.64,366.03M329.89,359.99L331.02,366.37M327.26,359.26A112.60,112.60 0 0 1 317.45,360.35M327.26,359.26L328.46,366.99M324.82,359.62L326.04,368.87M322.37,359.91L323.34,368.69M319.91,360.16L320.52,367.06M317.45,360.35L318.08,369.85M315.02,361.03A113.15,113.15 0 0 1 302.63,360.91M313.78,361.08L313.89,364.43M315.16,364.38A116.49,116.49 0 0 1 312.61,364.46M315.16,364.38L315.35,368.53M312.61,364.46L312.71,368.62M310.06,361.15L310.07,371.49M307.58,361.12L307.37,371.09M305.10,361.04L304.68,370.89M302.63,360.91L301.98,370.79M300.20,360.25A112.68,112.68 0 0 1 295.29,359.71M298.97,360.14L298.68,363.07M299.94,363.18A115.62,115.62 0 0 1 297.42,362.94M299.94,363.18L299.41,369.32M297.42,362.94L296.98,367.01M295.29,359.71L294.21,367.97"/><path fill="none" stroke="#777" stroke-width="0.65" stroke-dasharray="2.2,1.1" d="M298.90,323.18L293.64,358.80M294.20,322.34L286.92,356.57M289.56,321.20L280.42,353.95M298.90,323.18A76.00,76.00 0 0 1 289.56,321.20"/><path fill="none" stroke="#777" stroke-width="0.65" d="M294.80,358.96A112.00,112.00 0 0 1 292.48,358.62M296.54,322.80L289.81,360.20M290.99,360.40A114.00,114.00 0 0 1 288.64,359.98M288.06,356.81A111.00,111.00 0 0 1 285.79,356.33M291.87,321.81L283.05,357.74M284.20,358.01A113.00,113.00 0 0 1 281.90,357.45M281.53,354.25A110.00,110.00 0 0 1 279.31,353.63"/><path fill="none" stroke="#888" stroke-width="0.65" d="M294.80,358.96L294.26,362.93M292.48,358.62L291.70,363.56M290.99,360.40L290.32,364.35M288.64,359.98L287.70,364.89M288.06,356.81L287.27,360.73M285.79,356.33L284.70,361.21M284.20,358.01L283.28,361.91M281.90,357.45L280.65,362.29M281.53,354.25L280.49,358.12M279.31,353.63L277.92,358.43"/><path fill="none" stroke="#b4b4b4" stroke-width="0.65" d="M284.18,336.30L279.41,352.62M283.30,336.04L278.02,353.46M282.43,335.77L276.61,354.28M281.56,335.49L276.30,351.66M280.69,335.20L274.89,352.46M279.82,334.91L273.46,353.24M278.96,334.60L273.22,350.61M278.10,334.29L271.79,351.36M277.24,333.97L270.33,352.10M276.39,333.64L270.18,349.46M275.54,333.30L268.72,350.18"/><path fill="none" stroke="#8a3434" stroke-width="0.5" d="M269.81,345.03A105.03,105.03 0 0 1 263.73,342.29M263.74,342.36A105.09,105.09 0 0 1 257.85,339.24M257.85,339.30A105.15,105.15 0 0 1 252.16,335.81M252.16,335.88A105.21,105.21 0 0 1 246.70,332.04M246.70,332.11A105.27,105.27 0 0 1 241.49,327.92M241.48,327.99A105.33,105.33 0 0 1 236.54,323.48M236.53,323.55A105.39,105.39 0 0 1 231.88,318.74M231.87,318.81A105.44,105.44 0 0 1 227.53,313.71M227.54,313.75A105.46,105.46 0 0 1 223.54,308.38M224.03,308.08A104.88,104.88 0 0 1 220.39,302.51M220.91,302.24A104.30,104.30 0 0 1 217.65,296.48M218.18,296.24A103.73,103.73 0 0 1 215.30,290.32M215.84,290.12A103.15,103.15 0 0 1 213.36,284.06M213.92,283.89A102.57,102.57 0 0 1 211.83,277.73M212.40,277.59A101.99,101.99 0 0 1 210.72,271.34M211.18,271.27A101.52,101.52 0 0 1 209.90,264.95M209.76,265.01A101.67,101.67 0 0 1 208.88,258.62M208.74,258.67A101.82,101.82 0 0 1 208.26,252.23M208.11,252.27A101.98,101.98 0 0 1 208.05,245.80M207.63,245.83A102.39,102.39 0 0 1 207.98,239.34M207.51,239.33A102.86,102.86 0 0 1 208.26,232.85M207.79,232.82A103.33,103.33 0 0 1 208.96,226.36M208.50,226.30A103.80,103.80 0 0 1 210.08,219.91M209.62,219.81A104.27,104.27 0 0 1 211.61,213.50M266.03,343.37L264.22,347.28M259.54,340.17L258.17,342.66M253.28,336.54L251.26,339.69M244.81,330.60L242.01,334.15M239.22,325.98L237.05,328.38M234.72,321.70L231.40,324.95M228.44,314.80L225.29,317.38M222.35,306.41L219.34,308.42M217.68,296.02L213.83,298.02M216.18,292.20L211.97,294.19M214.08,286.46L210.77,287.78M212.21,278.53L208.26,279.76M211.18,273.59L208.63,274.25M210.00,265.65L207.06,266.17M208.74,257.75L204.80,258.13M208.25,252.77L205.90,252.88M208.07,245.75L203.83,245.66M208.03,236.68L203.35,236.16M208.66,228.58L203.99,227.69M209.93,220.52L207.70,219.91"/><path fill="none" stroke="#9a7070" stroke-width="0.5" d="M269.82,345.01L266.41,353.24M266.18,348.16A109.33,109.33 0 0 1 262.28,346.36M266.18,348.16L263.96,353.24M264.22,347.28L261.98,352.14M262.28,346.36L259.75,351.57M260.99,344.15A107.92,107.92 0 0 1 255.40,341.09M260.99,344.15L257.24,351.50M259.11,343.17L255.55,349.82M257.25,342.15L254.98,346.19M255.40,341.09L252.89,345.38M253.07,340.83A108.90,108.90 0 0 1 249.46,338.52M253.07,340.83L250.35,345.27M251.26,339.69L248.60,343.84M249.46,338.52L245.11,345.03M249.81,334.28L243.86,342.81M245.45,336.75A109.74,109.74 0 0 1 238.67,331.41M244.58,336.12L243.92,337.01M244.79,337.66A110.86,110.86 0 0 1 243.04,336.36M244.79,337.66L242.75,340.47M243.04,336.36L241.27,338.69M242.01,334.15L239.86,336.87M240.33,332.79L236.91,336.95M238.67,331.41L234.10,336.75M237.84,329.09A108.55,108.55 0 0 1 236.26,327.65M237.84,329.09L234.86,332.44M236.26,327.65L232.22,332.02M233.71,327.23A109.99,109.99 0 0 1 229.16,322.59M229.90,323.38L229.13,324.11M229.88,324.90A111.05,111.05 0 0 1 228.38,323.31M229.88,324.90L228.02,326.69M228.38,323.31L227.15,324.45M233.71,327.23L230.92,330.12M232.16,325.72L228.36,329.51M228.09,320.66A109.49,109.49 0 0 1 222.63,313.99M228.09,320.66L223.35,324.86M226.67,319.03L223.23,321.97M225.29,317.38L220.53,321.28M223.94,315.70L218.19,320.23M222.63,313.99L218.19,317.35M221.78,311.94A108.96,108.96 0 0 1 217.03,304.81M221.78,311.94L215.61,316.42M220.54,310.20L214.85,314.16M219.34,308.42L216.75,310.15M218.16,306.63L214.90,308.72M217.03,304.81L212.06,307.85M219.84,300.69L211.81,305.38M218.98,298.81L212.88,302.22M214.33,298.97A108.40,108.40 0 0 1 213.34,297.07M214.33,298.97L208.35,302.15M213.34,297.07L208.19,299.69M212.43,295.15A108.37,108.37 0 0 1 211.52,293.22M212.43,295.15L208.28,297.15M211.52,293.22L207.07,295.27M211.99,290.69A106.90,106.90 0 0 1 209.64,284.83M211.99,290.69L207.89,292.48M211.17,288.75L205.40,291.13M210.39,286.80L206.60,288.28M209.64,284.83L203.51,287.09M212.98,281.46L201.57,285.39M208.58,280.76A106.58,106.58 0 0 1 207.96,278.76M208.58,280.76L204.44,282.09M207.96,278.76L203.68,280.04M209.17,276.24A104.71,104.71 0 0 1 208.14,272.25M208.90,275.25L207.70,275.57M207.98,276.57A105.95,105.95 0 0 1 207.43,274.56M207.98,276.57L201.71,278.33M207.43,274.56L199.77,276.54M208.14,272.25L202.71,273.54M207.86,270.20A104.53,104.53 0 0 1 206.43,262.10M207.64,269.20L206.49,269.44M206.70,270.45A105.71,105.71 0 0 1 206.28,268.42M206.70,270.45L201.18,271.66M206.28,268.42L199.72,269.71M207.06,266.17L201.52,267.15M206.73,264.14L201.67,264.93M206.43,262.10L198.04,263.25M205.02,260.20A105.68,105.68 0 0 1 204.63,256.06M204.91,259.16L203.43,259.32M203.55,260.37A107.17,107.17 0 0 1 203.33,258.27M203.55,260.37L198.42,260.96M203.33,258.27L198.43,258.74M204.63,256.06L198.45,256.53M205.95,253.90A104.22,104.22 0 0 1 205.85,251.85M205.95,253.90L200.55,254.21M205.85,251.85L198.60,252.12M203.82,249.84A106.19,106.19 0 0 1 204.01,241.48M203.95,242.53L202.95,242.47M202.90,243.53A107.19,107.19 0 0 1 203.01,241.42M202.90,243.53L200.75,243.44M203.01,241.42L198.63,241.15M203.82,249.84L198.55,249.93M203.81,247.75L198.43,247.73M203.83,245.66L200.21,245.58M203.04,239.31A107.31,107.31 0 0 1 203.74,233.02M203.60,234.06L202.52,233.92M202.38,234.98A108.40,108.40 0 0 1 202.66,232.86M202.38,234.98L197.14,234.34M202.66,232.86L200.23,232.52M203.04,239.31L197.89,238.89M203.24,237.21L198.23,236.70M203.43,230.83A107.94,107.94 0 0 1 204.63,224.57M203.61,229.78L202.62,229.61M202.45,230.67A108.94,108.94 0 0 1 202.81,228.55M202.45,230.67L200.46,230.35M202.81,228.55L201.12,228.25M204.19,226.65L200.68,225.94M204.63,224.57L200.33,223.61M206.92,222.94A106.09,106.09 0 0 1 208.57,216.90M206.92,222.94L199.89,221.23M207.43,220.92L204.16,220.06M207.98,218.90L202.41,217.32M208.57,216.90L202.12,214.92M210.85,215.45L202.88,212.84M211.37,213.46L205.09,211.26"/><path fill="#c4c4f6" fill-opacity="1" stroke="none" d="M261.55,218.54L259.21,214.43L256.82,218.36ZM267.94,221.52L265.67,217.36L263.22,221.26ZM248.68,203.61L246.67,199.32L243.98,203.05ZM201.72,169.66L199.80,165.56L197.22,169.12ZM199.15,163.47L197.33,159.32L194.66,162.82ZM183.18,157.47L181.23,153.38L178.68,156.96ZM196.91,148.62L195.39,144.35L192.48,147.65ZM181.53,146.18L179.79,141.99L177.06,145.44ZM198.18,139.20L196.88,134.86L193.81,138.01ZM182.21,141.38L180.58,137.16L177.76,140.53ZM204.05,127.85L203.09,123.42L199.79,126.33ZM196.64,129.82L195.48,125.44L192.31,128.49ZM187.46,131.14L186.12,126.81L183.08,129.99ZM188.97,127.29L187.72,122.94L184.62,126.05ZM191.20,123.21L190.07,118.82L186.88,121.86ZM193.45,118.83L192.43,114.41L189.16,117.36ZM190.27,119.43L189.19,115.03L185.97,118.03ZM185.20,117.31L184.06,112.93L180.88,115.97ZM188.91,114.64L187.88,110.23L184.62,113.19ZM197.11,113.84L196.24,109.40L192.88,112.23ZM278.57,199.61L278.25,194.88L274.39,197.39ZM261.44,180.82L260.91,176.33L257.34,178.90ZM245.42,162.94L244.77,158.46L241.27,161.12ZM258.59,173.23L258.16,168.72L254.53,171.21ZM247.08,158.96L246.59,154.46L243.00,157.00ZM254.87,160.80L254.62,156.28L250.90,158.63ZM268.22,170.13L268.29,165.61L264.41,167.69ZM256.42,156.45L256.32,151.92L252.52,154.14ZM268.38,163.02L268.62,158.50L264.67,160.43ZM258.91,153.41L258.96,148.88L255.09,150.97ZM269.94,157.22L270.35,152.70L266.33,154.48ZM260.30,147.94L260.51,143.42L256.57,145.37ZM264.06,142.18L264.50,137.67L260.46,139.42ZM276.56,146.33L277.41,141.88L273.23,143.26ZM281.76,141.95L282.87,137.55L278.61,138.69ZM275.06,141.30L275.92,136.86L271.74,138.23ZM278.04,138.21L279.05,133.79L274.82,135.02ZM274.25,136.82L275.13,132.38L270.95,133.73ZM280.67,135.70L281.80,131.31L277.55,132.43ZM278.15,134.05L279.20,129.65L274.97,130.83ZM282.17,133.44L283.38,129.08L279.10,130.11ZM286.70,135.42L288.06,131.10L283.75,131.99ZM309.01,177.31L311.25,173.14L306.66,173.20ZM287.10,122.59L288.55,118.30L284.22,119.09ZM294.76,142.87L296.37,138.64L292.01,139.27ZM288.67,112.59L290.23,108.34L285.89,109.02ZM299.16,147.15L300.92,142.98L296.54,143.45ZM306.73,154.36L308.88,150.14L304.29,150.30ZM306.72,134.49L308.80,130.47L304.40,130.59ZM306.53,91.51L308.64,87.50L304.24,87.60ZM310.73,93.14L312.95,89.19L308.55,89.17ZM314.38,109.60L316.71,105.71L312.31,105.57ZM318.43,148.64L320.96,144.88L316.57,144.51ZM317.53,115.54L319.96,111.71L315.56,111.46ZM322.85,134.26L325.48,130.57L321.11,130.08ZM327.53,120.21L330.25,116.58L325.89,115.99ZM333.37,95.64L336.15,92.06L331.80,91.39ZM338.80,188.95L342.68,186.24L338.55,184.22ZM353.92,147.48L357.68,144.60L353.47,142.76ZM352.04,114.60L355.33,111.49L351.13,110.16ZM349.64,103.51L352.81,100.27L348.56,99.11ZM357.56,96.73L360.84,93.61L356.65,92.29ZM355.15,91.72L358.36,88.53L354.14,87.31ZM352.81,87.56L355.95,84.30L351.70,83.17ZM359.22,89.88L362.50,86.75L358.30,85.45ZM361.48,127.82L365.06,125.05L361.01,123.31ZM368.76,104.83L372.29,102.00L368.22,100.33ZM373.20,106.46L376.82,103.74L372.81,101.95ZM351.96,164.22L355.87,161.55L351.75,159.49ZM364.23,136.82L368.11,134.11L363.97,132.09ZM373.98,111.72L377.66,109.07L373.68,107.20ZM374.45,122.86L378.22,120.35L374.31,118.33ZM383.84,108.84L387.64,106.37L383.75,104.31ZM366.52,152.81L370.61,150.43L366.65,148.08ZM381.98,119.04L385.84,116.65L381.99,114.51ZM387.01,113.21L390.88,110.86L387.06,108.68ZM390.30,119.59L394.27,117.40L390.54,115.06ZM385.40,132.78L389.59,130.57L385.74,128.05ZM404.37,127.78L407.79,126.34L404.96,124.12ZM412.55,132.30L416.05,131.07L413.35,128.68ZM409.61,133.34L413.48,131.93L410.46,129.31ZM418.64,141.40L422.61,140.31L419.81,137.45ZM445.24,172.84L448.95,172.84L447.20,169.69ZM448.40,178.14L452.10,178.29L450.48,175.07ZM448.53,183.19L452.64,183.48L450.94,179.85ZM454.11,197.33L458.17,198.02L456.85,194.25ZM458.21,210.39L462.19,211.44L461.21,207.56ZM464.15,227.98L467.59,229.35L467.13,225.78ZM461.51,223.71L465.39,225.11L464.75,221.16ZM465.14,237.21L468.50,238.78L468.25,235.19ZM463.36,240.40L467.05,242.22L466.85,238.22ZM464.11,254.17L467.63,256.31L467.79,252.32ZM459.60,287.63L462.57,290.48L463.59,286.62ZM454.54,310.51L456.80,313.45L458.23,310.15ZM449.55,322.04L451.57,325.15L453.26,321.97ZM449.92,318.71L452.23,322.12L454.04,318.55ZM446.18,327.35L448.28,330.89L450.30,327.44ZM323.55,288.49L322.68,293.15L327.04,291.69ZM392.31,300.64L394.56,304.81L397.03,300.93ZM384.36,298.16L386.51,302.38L389.08,298.57ZM385.47,301.83L387.50,306.11L390.17,302.36ZM395.16,314.25L396.77,318.04L399.23,314.89ZM387.69,323.44L388.88,327.38L391.67,324.51ZM383.45,333.03L384.21,336.66L386.93,334.31ZM368.45,341.42L368.67,345.53L372.06,343.41ZM349.82,353.16L349.28,356.83L352.65,355.55ZM333.33,358.22L332.24,361.76L335.77,361.01ZM331.61,355.90L330.36,359.82L334.28,359.04ZM299.00,359.81L296.89,362.86L300.48,363.21ZM298.04,357.27L295.66,360.63L299.64,361.06ZM297.04,335.75L294.16,339.51L298.71,340.18ZM294.29,335.30L291.30,338.97L295.82,339.78ZM291.56,334.76L288.45,338.33L292.95,339.29ZM288.84,334.14L285.62,337.61L290.09,338.71ZM286.15,333.43L282.82,336.80L287.25,338.04ZM286.51,328.34L283.14,331.66L287.55,332.95ZM281.35,336.16L277.89,339.39L282.26,340.81ZM277.54,334.83L273.93,337.90L278.24,339.51ZM243.06,306.19L238.42,307.17L241.44,310.64ZM255.97,331.20L251.79,333.42L255.65,335.92ZM268.71,347.68L265.00,350.62L269.25,352.38ZM265.96,343.51L262.14,346.31L266.32,348.23ZM259.82,339.66L255.81,342.19L259.85,344.40ZM253.35,336.43L249.18,338.68L253.05,341.16ZM245.48,334.90L241.60,336.66L244.92,339.13ZM244.65,330.80L240.28,332.63L243.89,335.48ZM239.48,325.70L234.99,327.22L238.40,330.31ZM234.49,321.92L229.92,323.18L233.14,326.46ZM222.51,306.31L217.79,306.69L220.34,310.52ZM217.08,302.30L212.35,302.40L214.67,306.37ZM217.53,296.10L212.79,295.97L214.92,300.05ZM215.89,292.34L211.16,292.03L213.12,296.19ZM214.28,286.37L209.58,285.78L211.29,290.05ZM212.15,278.55L207.51,277.58L208.88,281.98ZM210.30,274.87L206.16,273.84L207.24,277.84ZM211.84,273.42L207.26,272.23L208.41,276.68ZM209.09,268.90L205.02,267.63L205.86,271.68ZM210.50,265.56L206.03,264.01L206.83,268.54ZM206.23,259.02L202.31,257.36L202.74,261.48ZM208.77,257.75L204.42,255.86L204.86,260.43ZM209.07,252.73L204.83,250.62L205.04,255.22ZM205.52,242.61L201.90,240.35L201.69,244.48ZM207.95,245.75L203.86,243.36L203.76,247.96ZM205.11,234.26L201.69,231.72L201.15,235.83ZM207.67,236.64L203.81,233.89L203.31,238.47ZM205.15,230.04L201.83,227.37L201.13,231.46ZM208.29,228.51L204.65,225.48L203.79,229.99ZM210.75,220.75L207.36,217.43L206.14,221.87Z"/><text x="4.6" y="12.7" font-family="Liberation Sans, sans-serif" font-weight="bold" font-size="6.6" fill="#474747">Tree scale: 0.1</text><g stroke="#6a6a6a" stroke-width="0.5" fill="none"><path d="M55.6,10.3H77.5M55.6,11.4H77.5"/><path stroke-width="0.8" d="M55.7,9.3V12.6M77.4,9.3V12.6"/></g><rect x="21.2" y="33.4" width="44.4" height="102.2" fill="none" stroke="#f3f3f3" stroke-width="0.6"/><text x="23.9" y="43.6" font-family="Liberation Sans, sans-serif" font-weight="bold" font-size="8.5" fill="#1a1a1a">bootstrap</text><path d="M22.8,48.3H63.8" stroke="#ccc" stroke-width="0.6"/><path d="M29.08,58.20L30.92,57.25L30.92,59.15Z" fill="#d6d6fb" stroke="#5c5c88" stroke-width="0.55"/><text x="41" y="61.20" font-family="Liberation Sans, sans-serif" font-size="8.3" fill="#222">0.7</text><path d="M28.11,75.10L31.89,73.15L31.89,77.05Z" fill="#d6d6fb" stroke="#5c5c88" stroke-width="0.55"/><text x="41" y="78.10" font-family="Liberation Sans, sans-serif" font-size="8.3" fill="#222">0.77</text><path d="M26.51,91.90L33.49,88.30L33.49,95.50Z" fill="#d6d6fb" stroke="#5c5c88" stroke-width="0.55"/><text x="41" y="94.90" font-family="Liberation Sans, sans-serif" font-size="8.3" fill="#222">0.85</text><path d="M25.44,108.80L34.56,104.10L34.56,113.50Z" fill="#d6d6fb" stroke="#5c5c88" stroke-width="0.55"/><text x="41" y="111.80" font-family="Liberation Sans, sans-serif" font-size="8.3" fill="#222">0.93</text><path d="M24.57,125.70L35.43,120.10L35.43,131.30Z" fill="#d6d6fb" stroke="#5c5c88" stroke-width="0.55"/><text x="41" y="128.70" font-family="Liberation Sans, sans-serif" font-size="8.3" fill="#222">1</text></svg></body></html>
